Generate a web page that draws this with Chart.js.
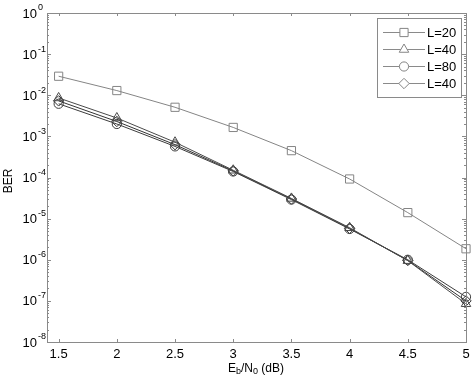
<!DOCTYPE html>
<html>
<head>
<meta charset="utf-8">
<script src="https://cdn.jsdelivr.net/npm/chart.js@4"></script>
<style>
  html, body { margin: 0; padding: 0; background: #fff; }
  #wrap { width: 474px; height: 381px; }
</style>
</head>
<body>
<div id="wrap"><canvas id="myChart" width="474" height="381"></canvas></div>
<script>
const ebn0 = [1.5, 2, 2.5, 3, 3.5, 4, 4.5, 5];
const berL20 = [2.9e-2, 1.3e-2, 5.1e-3, 1.65e-3, 4.5e-4, 9.2e-5, 1.4e-5, 1.85e-6];
const berL40 = [8.6e-3, 2.8e-3, 7.2e-4, 1.5e-4, 3.1e-5, 6.0e-6, 9.5e-7, 8.5e-8];
const berL80 = [6.2e-3, 2.0e-3, 5.7e-4, 1.4e-4, 2.9e-5, 5.6e-6, 1.0e-6, 1.25e-7];
const berL40b = [7.3e-3, 2.3e-3, 6.3e-4, 1.45e-4, 3.0e-5, 5.8e-6, 9.6e-7, 1.0e-7];
const xTicks = [1.5, 2, 2.5, 3, 3.5, 4, 4.5, 5];
const yExponents = [0, -1, -2, -3, -4, -5, -6, -7, -8];
const seriesNames = ['L=20', 'L=40', 'L=80', 'L=40'];

const axisColor = '#8a8a8a';
const font = '"Liberation Sans", Arial, sans-serif';

function series(label, values, style, color, radius) {
    return {
        label: label,
        data: ebn0.map((x, i) => ({ x: x, y: values[i] })),
        borderColor: color,
        borderWidth: 1,
        pointStyle: style,
        pointRadius: radius,
        pointBorderColor: color,
        pointBackgroundColor: 'rgba(0,0,0,0)',
        pointBorderWidth: 1,
        fill: false,
        tension: 0,
        clip: false
    };
}

const datasets = [
    series(seriesNames[0], berL20, 'rect', '#858585', 5.8),
    series(seriesNames[1], berL40, 'triangle', '#4a4a4a', 5.5),
    series(seriesNames[2], berL80, 'circle', '#3c3c3c', 4.6),
    series(seriesNames[3], berL40b, 'rectRot', '#333333', 5.2)
];

const axesPlugin = {
    id: 'axesPlugin',
    afterDraw(chart) {
        const ctx = chart.ctx;
        const a = chart.chartArea;
        const xs = chart.scales.x, ys = chart.scales.y;
        ctx.save();
        ctx.strokeStyle = axisColor;
        ctx.lineWidth = 1;
        ctx.strokeRect(a.left + 0.5, a.top + 0.5, a.right - a.left, a.bottom - a.top);

        // x ticks top and bottom
        ctx.beginPath();
        xTicks.forEach(v => {
            const px = Math.round(xs.getPixelForValue(v)) + 0.5;
            ctx.moveTo(px, a.bottom); ctx.lineTo(px, a.bottom - 3);
            ctx.moveTo(px, a.top); ctx.lineTo(px, a.top + 3);
        });
        // y major and minor ticks
        yExponents.forEach(e => {
            for (let m = 1; m <= 9; m++) {
                if (e === 0 && m > 1) break;
                const v = m * Math.pow(10, e);
                const py = Math.round(ys.getPixelForValue(v)) + 0.5;
                const len = m === 1 ? 4 : 2;
                ctx.moveTo(a.left, py); ctx.lineTo(a.left + len, py);
                ctx.moveTo(a.right, py); ctx.lineTo(a.right - len, py);
            }
        });
        ctx.stroke();

        // tick labels
        ctx.fillStyle = '#000';
        ctx.font = '13px ' + font;
        ctx.textAlign = 'center';
        ctx.textBaseline = 'middle';
        xTicks.forEach(v => {
            ctx.fillText(String(v), xs.getPixelForValue(v), a.bottom + 12);
        });
        yExponents.forEach(e => {
            const py = ys.getPixelForValue(Math.pow(10, e));
            ctx.font = '13px ' + font;
            ctx.textAlign = 'right';
            ctx.fillText('10', 37, py + 1);
            ctx.font = '9px ' + font;
            ctx.textAlign = 'left';
            ctx.fillText(String(e), 38, py - 5);
        });

        // axis titles
        ctx.font = '12px ' + font;
        ctx.save();
        ctx.translate(9, 181);
        ctx.rotate(-Math.PI / 2);
        ctx.textAlign = 'center';
        ctx.fillText('BER', 0, 0);
        ctx.restore();

        const parts = [['E', 12, 0], ['b', 9, 3], ['/N', 12, 0], ['0', 9, 3], [' (dB)', 12, 0]];
        let total = 0;
        parts.forEach(p => { ctx.font = p[1] + 'px ' + font; total += ctx.measureText(p[0]).width; });
        let x = 256 - total / 2;
        ctx.textAlign = 'left';
        parts.forEach(p => {
            ctx.font = p[1] + 'px ' + font;
            ctx.fillText(p[0], x, 369 + p[2]);
            x += ctx.measureText(p[0]).width;
        });

        // legend
        ctx.fillStyle = '#fff';
        ctx.fillRect(377, 18, 84, 79);
        ctx.strokeStyle = axisColor;
        ctx.strokeRect(377.5, 18.5, 84, 79);
        const rows = [32, 49, 66, 83];
        chart.data.datasets.forEach((ds, i) => {
            const y = rows[i] + 0.5;
            ctx.strokeStyle = '#8a8a8a';
            ctx.lineWidth = 1;
            ctx.beginPath();
            ctx.moveTo(383, y); ctx.lineTo(425, y);
            ctx.stroke();
            ctx.fillStyle = '#fff';
            ctx.strokeStyle = '#858585';
            Chart.helpers.drawPoint(ctx, {
                pointStyle: ds.pointStyle, radius: ds.pointRadius, borderWidth: 1
            }, 404, y);
            ctx.fillStyle = '#000';
            ctx.font = '13px ' + font;
            ctx.textAlign = 'left';
            ctx.fillText(ds.label, 427, rows[i] + 1);
        });
        ctx.restore();
    }
};

const config = {
    type: 'line',
    data: { datasets: datasets },
    options: {
        responsive: false,
        animation: false,
        layout: { padding: { left: 47, right: 8, top: 13, bottom: 39 } },
        scales: {
            x: { type: 'linear', min: 1.4, max: 5, display: false },
            y: { type: 'logarithmic', min: 1e-8, max: 1, display: false }
        },
        plugins: {
            legend: { display: false },
            tooltip: { enabled: false }
        }
    },
    plugins: [axesPlugin]
};

let myChart = new Chart(document.getElementById('myChart'), config);
</script>
</body>
</html>
